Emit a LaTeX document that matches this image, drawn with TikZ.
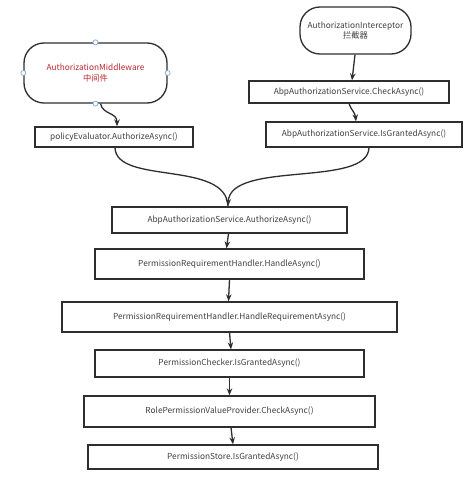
\documentclass[tikz,border=0pt]{standalone}
\usepackage{fontspec}
\setmainfont{Noto Sans CJK SC}
\usetikzlibrary{arrows.meta}
\definecolor{ln}{HTML}{2E2E2E}
\definecolor{tx}{HTML}{404040}
\definecolor{rd}{HTML}{B8282E}
\definecolor{hd}{HTML}{7FA8D8}
\begin{document}
\begin{tikzpicture}[x=1pt,y=-1pt,
  box/.style={draw=ln,line width=1.3pt,inner sep=0pt,text=tx,font=\fontsize{8.3}{10.5}\selectfont,align=center},
  pill/.style={box,rounded corners=20pt},
  con/.style={draw=ln,line width=1.3pt,-{Stealth[length=7pt,width=5.5pt]}},
  handle/.style={circle,draw=hd,fill=white,line width=0.7pt,inner sep=0pt,minimum size=5pt}]
\useasboundingbox (0,0) rectangle (474,500);
\node[pill,minimum width=143pt,minimum height=60pt,text=rd] (mw) at (95.5,73) {AuthorizationMiddleware\\中间件};
\node[pill,minimum width=111pt,minimum height=47pt] (ic) at (355.5,30.5) {AuthorizationInterceptor\\拦截器};
\node[box,minimum width=158pt,minimum height=20pt] (pe) at (114,137) {policyEvaluator.AuthorizeAsync()};
\node[box,minimum width=200pt,minimum height=22pt] (ca) at (349,92) {AbpAuthorizationService.CheckAsync()};
\node[box,minimum width=196pt,minimum height=25pt] (ig) at (364,134.5) {AbpAuthorizationService.IsGrantedAsync()};
\node[box,minimum width=235pt,minimum height=26pt] (aa) at (229.5,220) {AbpAuthorizationService.AuthorizeAsync()};
\node[box,minimum width=269pt,minimum height=30pt] (ha) at (229.5,264) {PermissionRequirementHandler.HandleAsync()};
\node[box,minimum width=335pt,minimum height=30pt] (hr) at (229.5,317) {PermissionRequirementHandler.HandleRequirementAsync()};
\node[box,minimum width=269pt,minimum height=27pt] (pc) at (229.5,363.5) {PermissionChecker.IsGrantedAsync()};
\node[box,minimum width=291pt,minimum height=31pt] (rp) at (229.5,411.5) {RolePermissionValueProvider.CheckAsync()};
\node[box,minimum width=290pt,minimum height=24pt] (ps) at (233,457) {PermissionStore.IsGrantedAsync()};
\coordinate (m) at (228,206);
% connectors
\draw[con] ([xshift=5pt]mw.south) .. controls (103,115) and (117,112) .. ([xshift=3pt]pe.north);
\draw[con] ([xshift=-0.5pt]ic.south) -- ([xshift=3pt]ca.north);
\draw[con] ([xshift=0pt]ca.south) .. controls (351,110) and (355,112) .. ([xshift=-8pt]ig.north);
\draw[draw=ln,line width=1.3pt] ([xshift=1pt]pe.south) .. controls (116,185) and (226,160) .. (m);
\draw[con] ([xshift=5pt]ig.south) .. controls (368,188) and (230,160) .. (m);
\draw[con] ([xshift=-1pt]aa.south) -- ([xshift=-3pt]ha.north);
\draw[con] ([xshift=0pt]ha.south) -- ([xshift=-1pt]hr.north);
\draw[con] ([xshift=0pt]hr.south) -- ([xshift=1.5pt]pc.north);
\draw[con] ([xshift=0pt]pc.south) -- ([xshift=0pt]rp.north);
\draw[con] ([xshift=1.5pt]rp.south) -- ([xshift=0pt]ps.north);
% selection handles
\foreach \a in {north,south,east,west} \node[handle] (h\a) at (mw.\a) {};
\end{tikzpicture}
\end{document}
